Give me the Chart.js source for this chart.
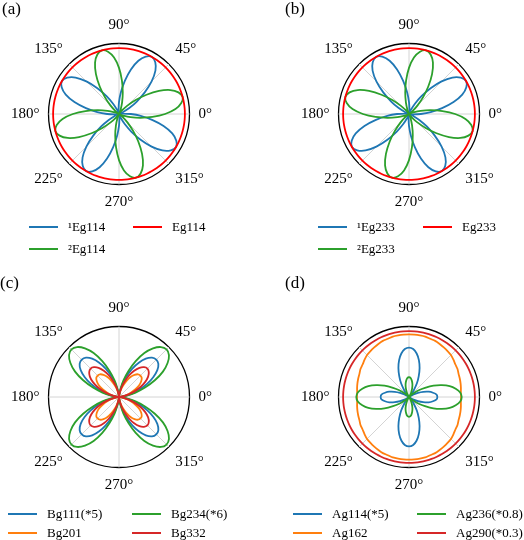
<!DOCTYPE html>
<html>
<head>
<meta charset="utf-8">
<script src="https://cdn.jsdelivr.net/npm/chart.js@4.4.0/dist/chart.umd.min.js"></script>
<style>
  html, body { margin: 0; padding: 0; background: #fff; }
  body { width: 524px; height: 540px; position: relative; overflow: hidden;
         font-family: "Liberation Serif", "DejaVu Serif", serif; color: #000; }
  .letter { position: absolute; font-size: 17px; line-height: 18px; }
  canvas { position: absolute; }
  .leg { position: absolute; height: 18px; font-size: 13px; line-height: 18px;
         white-space: nowrap; display: flex; align-items: center; }
  .leg .sw { display: inline-block; width: 29px; height: 2px; margin-right: 10px; }
</style>
</head>
<body>
<script>
// polar angle of every sample, degrees (anticlockwise from 0°)
const thetaDeg = [
  0,5,10,15,20,25,30,35,40,45,50,55,60,65,70,75,80,85,
  90,95,100,105,110,115,120,125,130,135,140,145,150,155,160,165,170,175,
  180,185,190,195,200,205,210,215,220,225,230,235,240,245,250,255,260,265,
  270,275,280,285,290,295,300,305,310,315,320,325,330,335,340,345,350,355
];
const gridAngles = [0, 45, 90, 135, 180, 225, 270, 315];
const RMAX = 1.07;

// (a)
const a_names = ['\u00b9Eg114', '\u00b2Eg114', 'Eg114'];
const a_1Eg114 = [
  0.18,0.07,0.01,0,0.01,0.07,0.18,0.33,0.51,0.70,0.86,0.96,1,0.96,0.86,0.70,0.51,0.33,
  0.18,0.07,0.01,0,0.01,0.07,0.18,0.33,0.51,0.70,0.86,0.96,1,0.96,0.86,0.70,0.51,0.33,
  0.18,0.07,0.01,0,0.01,0.07,0.18,0.33,0.51,0.70,0.86,0.96,1,0.96,0.86,0.70,0.51,0.33,
  0.18,0.07,0.01,0,0.01,0.07,0.18,0.33,0.51,0.70,0.86,0.96,1,0.96,0.86,0.70,0.51,0.33
];
const a_2Eg114 = [
  0.70,0.86,0.96,1,0.96,0.86,0.70,0.51,0.33,0.18,0.07,0.01,0,0.01,0.07,0.18,0.33,0.51,
  0.70,0.86,0.96,1,0.96,0.86,0.70,0.51,0.33,0.18,0.07,0.01,0,0.01,0.07,0.18,0.33,0.51,
  0.70,0.86,0.96,1,0.96,0.86,0.70,0.51,0.33,0.18,0.07,0.01,0,0.01,0.07,0.18,0.33,0.51,
  0.70,0.86,0.96,1,0.96,0.86,0.70,0.51,0.33,0.18,0.07,0.01,0,0.01,0.07,0.18,0.33,0.51
];
const a_Eg114 = [
  1,1,1,1,1,1,1,1,1,1,1,1,1,1,1,1,1,1,
  1,1,1,1,1,1,1,1,1,1,1,1,1,1,1,1,1,1,
  1,1,1,1,1,1,1,1,1,1,1,1,1,1,1,1,1,1,
  1,1,1,1,1,1,1,1,1,1,1,1,1,1,1,1,1,1
];

// (b)
const b_names = ['\u00b9Eg233', '\u00b2Eg233', 'Eg233'];
const b_1Eg233 = [
  0.18,0.33,0.51,0.70,0.86,0.96,1,0.96,0.86,0.70,0.51,0.33,0.18,0.07,0.01,0,0.01,0.07,
  0.18,0.33,0.51,0.70,0.86,0.96,1,0.96,0.86,0.70,0.51,0.33,0.18,0.07,0.01,0,0.01,0.07,
  0.18,0.33,0.51,0.70,0.86,0.96,1,0.96,0.86,0.70,0.51,0.33,0.18,0.07,0.01,0,0.01,0.07,
  0.18,0.33,0.51,0.70,0.86,0.96,1,0.96,0.86,0.70,0.51,0.33,0.18,0.07,0.01,0,0.01,0.07
];
const b_2Eg233 = [
  0.70,0.51,0.33,0.18,0.07,0.01,0,0.01,0.07,0.18,0.33,0.51,0.70,0.86,0.96,1,0.96,0.86,
  0.70,0.51,0.33,0.18,0.07,0.01,0,0.01,0.07,0.18,0.33,0.51,0.70,0.86,0.96,1,0.96,0.86,
  0.70,0.51,0.33,0.18,0.07,0.01,0,0.01,0.07,0.18,0.33,0.51,0.70,0.86,0.96,1,0.96,0.86,
  0.70,0.51,0.33,0.18,0.07,0.01,0,0.01,0.07,0.18,0.33,0.51,0.70,0.86,0.96,1,0.96,0.86
];
const b_Eg233 = [
  1,1,1,1,1,1,1,1,1,1,1,1,1,1,1,1,1,1,
  1,1,1,1,1,1,1,1,1,1,1,1,1,1,1,1,1,1,
  1,1,1,1,1,1,1,1,1,1,1,1,1,1,1,1,1,1,
  1,1,1,1,1,1,1,1,1,1,1,1,1,1,1,1,1,1
];

// (c)
const c_names = ['Bg111(*5)', 'Bg201', 'Bg234(*6)', 'Bg332'];
const c_Bg111 = [
  0,0.02,0.09,0.20,0.33,0.47,0.60,0.71,0.78,0.80,0.78,0.71,0.60,0.47,0.33,0.20,0.09,0.02,
  0,0.02,0.09,0.20,0.33,0.47,0.60,0.71,0.78,0.80,0.78,0.71,0.60,0.47,0.33,0.20,0.09,0.02,
  0,0.02,0.09,0.20,0.33,0.47,0.60,0.71,0.78,0.80,0.78,0.71,0.60,0.47,0.33,0.20,0.09,0.02,
  0,0.02,0.09,0.20,0.33,0.47,0.60,0.71,0.78,0.80,0.78,0.71,0.60,0.47,0.33,0.20,0.09,0.02
];
const c_Bg201 = [
  0,0.01,0.05,0.12,0.19,0.27,0.35,0.41,0.45,0.46,0.45,0.41,0.35,0.27,0.19,0.12,0.05,0.01,
  0,0.01,0.05,0.12,0.19,0.27,0.35,0.41,0.45,0.46,0.45,0.41,0.35,0.27,0.19,0.12,0.05,0.01,
  0,0.01,0.05,0.12,0.19,0.27,0.35,0.41,0.45,0.46,0.45,0.41,0.35,0.27,0.19,0.12,0.05,0.01,
  0,0.01,0.05,0.12,0.19,0.27,0.35,0.41,0.45,0.46,0.45,0.41,0.35,0.27,0.19,0.12,0.05,0.01
];
const c_Bg234 = [
  0,0.03,0.12,0.26,0.42,0.60,0.77,0.90,0.99,1.02,0.99,0.90,0.77,0.60,0.42,0.26,0.12,0.03,
  0,0.03,0.12,0.26,0.42,0.60,0.77,0.90,0.99,1.02,0.99,0.90,0.77,0.60,0.42,0.26,0.12,0.03,
  0,0.03,0.12,0.26,0.42,0.60,0.77,0.90,0.99,1.02,0.99,0.90,0.77,0.60,0.42,0.26,0.12,0.03,
  0,0.03,0.12,0.26,0.42,0.60,0.77,0.90,0.99,1.02,0.99,0.90,0.77,0.60,0.42,0.26,0.12,0.03
];
const c_Bg332 = [
  0,0.02,0.07,0.15,0.25,0.36,0.46,0.54,0.59,0.61,0.59,0.54,0.46,0.36,0.25,0.15,0.07,0.02,
  0,0.02,0.07,0.15,0.25,0.36,0.46,0.54,0.59,0.61,0.59,0.54,0.46,0.36,0.25,0.15,0.07,0.02,
  0,0.02,0.07,0.15,0.25,0.36,0.46,0.54,0.59,0.61,0.59,0.54,0.46,0.36,0.25,0.15,0.07,0.02,
  0,0.02,0.07,0.15,0.25,0.36,0.46,0.54,0.59,0.61,0.59,0.54,0.46,0.36,0.25,0.15,0.07,0.02
];

// (d)
const d_names = ['Ag114(*5)', 'Ag162', 'Ag236(*0.8)', 'Ag290(*0.3)'];
const d_Ag114 = [
  0.43,0.42,0.37,0.31,0.23,0.15,0.08,0.02,0,0.01,0.06,0.13,0.24,0.35,0.47,0.58,0.67,0.73,
  0.75,0.73,0.67,0.58,0.47,0.35,0.24,0.13,0.06,0.01,0,0.02,0.08,0.15,0.23,0.31,0.37,0.42,
  0.43,0.42,0.37,0.31,0.23,0.15,0.08,0.02,0,0.01,0.06,0.13,0.24,0.35,0.47,0.58,0.67,0.73,
  0.75,0.73,0.67,0.58,0.47,0.35,0.24,0.13,0.06,0.01,0,0.02,0.08,0.15,0.23,0.31,0.37,0.42
];
const d_Ag162 = [
  0.79,0.79,0.80,0.81,0.82,0.83,0.85,0.86,0.88,0.90,0.91,0.92,0.93,0.94,0.94,0.95,0.95,0.95,
  0.95,0.95,0.95,0.95,0.94,0.94,0.93,0.92,0.91,0.90,0.88,0.86,0.85,0.83,0.82,0.81,0.80,0.79,
  0.79,0.79,0.80,0.81,0.82,0.83,0.85,0.86,0.88,0.90,0.91,0.92,0.93,0.94,0.94,0.95,0.95,0.95,
  0.95,0.95,0.95,0.95,0.94,0.94,0.93,0.92,0.91,0.90,0.88,0.86,0.85,0.83,0.82,0.81,0.80,0.79
];
const d_Ag236 = [
  0.80,0.78,0.72,0.64,0.53,0.41,0.28,0.18,0.09,0.03,0,0.01,0.04,0.08,0.14,0.20,0.25,0.29,
  0.30,0.29,0.25,0.20,0.14,0.08,0.04,0.01,0,0.03,0.09,0.18,0.28,0.41,0.53,0.64,0.72,0.78,
  0.80,0.78,0.72,0.64,0.53,0.41,0.28,0.18,0.09,0.03,0,0.01,0.04,0.08,0.14,0.20,0.25,0.29,
  0.30,0.29,0.25,0.20,0.14,0.08,0.04,0.01,0,0.03,0.09,0.18,0.28,0.41,0.53,0.64,0.72,0.78
];
const d_Ag290 = [
  1,1,1,1,1,1,1,1,1,1,1,1,1,1,1,1,1,1,
  1,1,1,1,1,1,1,1,1,1,1,1,1,1,1,1,1,1,
  1,1,1,1,1,1,1,1,1,1,1,1,1,1,1,1,1,1,
  1,1,1,1,1,1,1,1,1,1,1,1,1,1,1,1,1,1
];

const BLUE = '#1f77b4', ORANGE = '#ff7f0e', GREEN = '#2ca02c', TRED = '#d62728', RED = '#ff0000';

const panels = [
  { letter: '(a)', lx: 2, ly: 0, cx: 119, cy: 114,
    names: a_names, series: [a_1Eg114, a_2Eg114, a_Eg114], colors: [BLUE, GREEN, RED],
    legX: [29, 133], legY: [227, 249] },
  { letter: '(b)', lx: 285, ly: 0, cx: 409, cy: 114,
    names: b_names, series: [b_1Eg233, b_2Eg233, b_Eg233], colors: [BLUE, GREEN, RED],
    legX: [318, 423], legY: [227, 249] },
  { letter: '(c)', lx: 0, ly: 274, cx: 119, cy: 397,
    names: c_names, series: [c_Bg111, c_Bg201, c_Bg234, c_Bg332], colors: [BLUE, ORANGE, GREEN, TRED],
    legX: [8, 132], legY: [514, 533] },
  { letter: '(d)', lx: 285, ly: 274, cx: 409, cy: 397,
    names: d_names, series: [d_Ag114, d_Ag162, d_Ag236, d_Ag290], colors: [BLUE, ORANGE, GREEN, TRED],
    legX: [293, 417], legY: [514, 533] }
];

const RADIUS = 71;
const N = thetaDeg.length;
// radar goes clockwise from startAngle, so walk the samples backwards
function clockwise(arr) { return arr.map((v, i) => arr[(N - i) % N]); }
const labels = clockwise(thetaDeg).map(d => d + '\u00b0');
function isGrid(lbl) { return gridAngles.includes(parseInt(lbl)); }

function makeChart(p, size) {
  const canvas = document.createElement('canvas');
  canvas.width = size;
  canvas.height = size;
  document.body.appendChild(canvas);
  const n = p.series.length;
  const chart = new Chart(canvas, {
    type: 'radar',
    data: {
      labels: labels,
      datasets: p.series.map((s, k) => ({
        label: p.names[k],
        data: clockwise(s),
        borderColor: p.colors[k],
        backgroundColor: 'rgba(0,0,0,0)',
        fill: false,
        order: n - k
      }))
    },
    options: {
      responsive: false,
      animation: false,
      events: [],
      plugins: { legend: { display: false }, tooltip: { enabled: false } },
      elements: {
        point: { radius: 0, hoverRadius: 0 },
        line: { tension: 0.25, borderWidth: 1.8 }
      },
      scales: {
        r: {
          min: 0, max: RMAX, startAngle: 90,
          ticks: { display: false, stepSize: RMAX },
          grid: { circular: true, color: '#000', lineWidth: 1.3 },
          angleLines: {
            display: true,
            color: '#cfcfcf',
            lineWidth: ctx => isGrid(labels[ctx.index]) ? 0.9 : 0
          },
          pointLabels: {
            padding: 9,
            color: '#000',
            font: { family: 'Liberation Serif', size: 15 },
            callback: lbl => isGrid(lbl) ? lbl : ''
          }
        }
      }
    }
  });
  return { canvas, chart };
}

panels.forEach(p => {
  let size = 218;
  let c = makeChart(p, size);
  const r = c.chart.scales.r;
  if (Math.abs(r.drawingArea - RADIUS) > 0.5) {
    size = Math.round(size + 2 * (RADIUS - r.drawingArea));
    c.chart.destroy();
    c.canvas.remove();
    c = makeChart(p, size);
  }
  const sc = c.chart.scales.r;
  c.canvas.style.left = (p.cx - sc.xCenter) + 'px';
  c.canvas.style.top = (p.cy - sc.yCenter) + 'px';

  const letter = document.createElement('div');
  letter.className = 'letter';
  letter.style.left = p.lx + 'px';
  letter.style.top = p.ly + 'px';
  letter.textContent = p.letter;
  document.body.appendChild(letter);

  p.names.forEach((name, k) => {
    const col = Math.floor(k / 2), row = k % 2;
    const item = document.createElement('div');
    item.className = 'leg';
    item.style.left = p.legX[col] + 'px';
    item.style.top = (p.legY[row] - 9) + 'px';
    const sw = document.createElement('span');
    sw.className = 'sw';
    sw.style.background = p.colors[k];
    const tx = document.createElement('span');
    tx.textContent = name;
    item.appendChild(sw);
    item.appendChild(tx);
    document.body.appendChild(item);
  });
});
</script>
</body>
</html>
